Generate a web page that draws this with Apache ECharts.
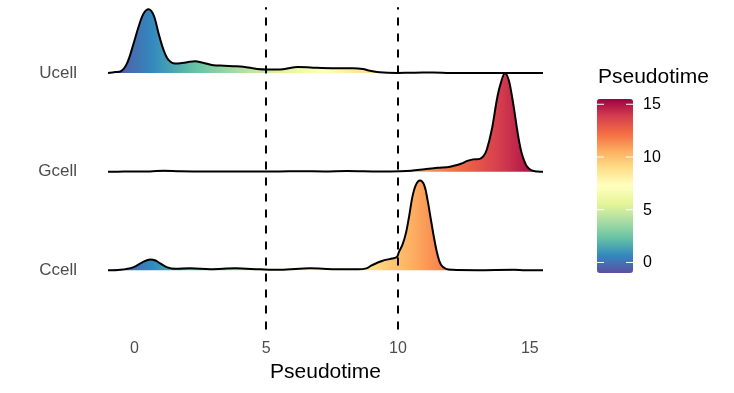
<!DOCTYPE html>
<html><head><meta charset="utf-8">
<script src="https://cdn.jsdelivr.net/npm/echarts@6/dist/echarts.min.js"></script>
<style>html,body{margin:0;padding:0;background:#fff}#c{width:734px;height:393px}</style>
</head><body><div id="c"></div>
<script>
// ---- data ----
const categories = ['Ccell', 'Gcell', 'Ucell'];
const xTicks = [0, 5, 10, 15];
const legendTicks = [0, 5, 10, 15];
const refLines = [5, 10];
const pseudoRange = [-1, 15.5];

const ucellX = [-1, -0.72, -0.53, -0.28, -0.03, 0.16, 0.35, 0.54, 0.73, 0.92, 1.11, 1.3, 1.55, 1.74, 2.0, 2.3, 2.6, 3.0, 3.4, 3.75, 4.13, 4.66, 5.04, 5.64, 6.2, 6.78, 7.5, 8.3, 8.67, 8.94, 9.3, 9.96, 10.64, 11.33, 11.97, 13.1, 15.5];
const ucellH = [0, 0.01, 0.016, 0.098, 0.30, 0.47, 0.605, 0.648, 0.588, 0.40, 0.233, 0.132, 0.098, 0.10, 0.11, 0.12, 0.105, 0.08, 0.075, 0.07, 0.064, 0.042, 0.037, 0.04, 0.062, 0.055, 0.05, 0.05, 0.042, 0.023, 0.008, 0.002, 0.003, 0.007, 0.002, 0.001, 0];

const gcellX = [-1, -0.4, 0.6, 1.1, 1.74, 2.8, 4.4, 5.5, 6.3, 7.2, 8.07, 9.3, 10.08, 10.5, 11.0, 11.5, 11.97, 12.42, 12.6, 12.85, 13.1, 13.24, 13.37, 13.56, 13.75, 13.88, 14.06, 14.2, 14.3, 14.4, 14.5, 14.6, 14.7, 14.88, 15.07, 15.3, 15.5];
const gcellH = [0, 0.001, 0.003, 0.01, 0.004, 0.002, 0.002, 0.003, 0.005, 0.003, 0.008, 0.003, 0.005, 0.01, 0.025, 0.04, 0.05, 0.084, 0.107, 0.125, 0.13, 0.157, 0.225, 0.43, 0.73, 0.88, 1.0, 0.93, 0.80, 0.64, 0.46, 0.30, 0.18, 0.057, 0.013, 0.002, 0];

const ccellX = [-1, -0.53, -0.05, 0.3, 0.6, 0.8, 0.98, 1.25, 1.55, 2.12, 2.88, 3.83, 4.78, 5.54, 6.67, 7.62, 8.5, 8.8, 9.0, 9.39, 9.77, 9.96, 10.04, 10.17, 10.3, 10.42, 10.55, 10.68, 10.83, 10.99, 11.12, 11.25, 11.38, 11.5, 11.63, 11.82, 12.06, 13.0, 14.4, 14.8, 15.5];
const ccellH = [0, 0.005, 0.03, 0.08, 0.11, 0.1, 0.07, 0.03, 0.015, 0.02, 0.01, 0.02, 0.01, 0.005, 0.02, 0.01, 0.01, 0.02, 0.05, 0.095, 0.12, 0.135, 0.19, 0.26, 0.377, 0.545, 0.75, 0.866, 0.91, 0.866, 0.714, 0.51, 0.31, 0.157, 0.056, 0.015, 0.005, 0.002, 0.006, 0.002, 0];

const palette = ['#5E4FA2', '#3288BD', '#66C2A5', '#ABDDA4', '#E6F598', '#FFFFBF', '#FEE08B', '#FDAE61', '#F46D43', '#D53E4F', '#9E0142'];

// ---- chart ----
const chart = echarts.init(document.getElementById('c'), null, { renderer: 'canvas' });
const FONT = 'Liberation Sans, Arial, Helvetica, sans-serif';

function ridge(name, xs, hs, base, extra) {
  return Object.assign({
    name: name,
    type: 'line',
    data: xs.map((x, i) => [x, base + hs[i]]),
    smooth: 0.35,
    showSymbol: false,
    symbol: 'none',
    silent: true,
    lineStyle: { color: '#000', width: 2 },
    areaStyle: { origin: base, opacity: 1 }
  }, extra || {});
}

const bar = { left: 597, top: 99, w: 36, h: 174 };
function legendY(v) { return bar.top + bar.h * (pseudoRange[1] - v) / (pseudoRange[1] - pseudoRange[0]); }

const graphics = [
  { type: 'text', left: 598, top: 67, z: 100, style: { text: 'Pseudotime', font: '21px ' + FONT, fill: '#000' } }
];
legendTicks.forEach(v => {
  const y = legendY(v);
  graphics.push({ type: 'text', x: 643, y: y + 0.5, z: 100, style: { text: String(v), font: '16px ' + FONT, fill: '#000', textVerticalAlign: 'middle', textAlign: 'left' } });
  graphics.push({ type: 'line', z: 100, shape: { x1: bar.left, y1: y, x2: bar.left + 7, y2: y }, style: { stroke: '#fff', lineWidth: 1 } });
  graphics.push({ type: 'line', z: 100, shape: { x1: bar.left + bar.w - 7, y1: y, x2: bar.left + bar.w, y2: y }, style: { stroke: '#fff', lineWidth: 1 } });
});

chart.setOption({
  animation: false,
  backgroundColor: '#fff',
  grid: { left: 108, right: 191, top: 7.3, bottom: 63.5, containLabel: false },
  xAxis: {
    type: 'value', min: pseudoRange[0], max: pseudoRange[1],
    axisLine: { show: false }, axisTick: { show: false }, splitLine: { show: false },
    axisLabel: { customValues: xTicks, fontSize: 16, color: '#4d4d4d', margin: 11, fontFamily: FONT },
    name: 'Pseudotime', nameLocation: 'middle', nameGap: 30,
    nameTextStyle: { fontSize: 21, color: '#000', fontFamily: FONT }
  },
  yAxis: {
    type: 'value', min: 0.4, max: 3.667,
    axisLine: { show: false }, axisTick: { show: false }, splitLine: { show: false },
    axisLabel: {
      customValues: [1, 2, 3], fontSize: 17, color: '#4d4d4d', margin: 31, fontFamily: FONT,
      padding: [3, 0, 0, 0],
      formatter: v => categories[Math.round(v) - 1]
    }
  },
  visualMap: {
    type: 'continuous', show: true, min: pseudoRange[0], max: pseudoRange[1],
    dimension: 0, seriesIndex: [0, 1, 2],
    inRange: { color: palette },
    left: bar.left, top: bar.top, itemWidth: bar.w, itemHeight: bar.h,
    padding: 0, calculable: false, hoverLink: false, text: null
  },
  graphic: graphics,
  series: [
    ridge('Ucell', ucellX, ucellH, 3),
    ridge('Gcell', gcellX, gcellH, 2),
    ridge('Ccell', ccellX, ccellH, 1, {
      markLine: {
        silent: true, symbol: 'none', label: { show: false },
        lineStyle: { color: '#000', width: 2, type: [8, 8] },
        data: refLines.map(v => ({ xAxis: v }))
      }
    })
  ]
});
</script></body></html>
